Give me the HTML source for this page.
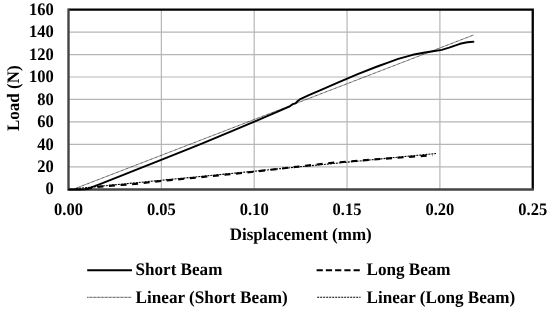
<!DOCTYPE html>
<html><head><meta charset="utf-8"><title>Load vs Displacement</title>
<style>
html,body{margin:0;padding:0;background:#fff;}
body{width:550px;height:311px;overflow:hidden;}
svg{display:block;}
text{font-family:"Liberation Serif","Times New Roman",serif;font-weight:bold;font-size:17px;fill:#000;text-rendering:geometricPrecision;}
text.t{font-size:16.5px;}
text.g{font-size:17.1px;}
</style></head><body>
<svg width="550" height="311" viewBox="0 0 550 311">
<rect x="0" y="0" width="550" height="311" fill="#fff"/>
<g stroke="#b6b6b6" stroke-width="1.2" fill="none">
<line x1="68.5" y1="166.80" x2="532.8" y2="166.80"/>
<line x1="68.5" y1="144.35" x2="532.8" y2="144.35"/>
<line x1="68.5" y1="121.90" x2="532.8" y2="121.90"/>
<line x1="68.5" y1="99.45" x2="532.8" y2="99.45"/>
<line x1="68.5" y1="77.00" x2="532.8" y2="77.00"/>
<line x1="68.5" y1="54.55" x2="532.8" y2="54.55"/>
<line x1="68.5" y1="32.10" x2="532.8" y2="32.10"/>
<line x1="161.35" y1="9.7" x2="161.35" y2="189.2"/>
<line x1="254.20" y1="9.7" x2="254.20" y2="189.2"/>
<line x1="347.05" y1="9.7" x2="347.05" y2="189.2"/>
<line x1="439.90" y1="9.7" x2="439.90" y2="189.2"/>
</g>
<path d="M68.50 9.60 H532.75 V189.50" fill="none" stroke="#000" stroke-width="2.3" stroke-linejoin="miter"/>
<path d="M68.50 8.45 V189.50 H533.90" fill="none" stroke="#444" stroke-width="2.4" stroke-linejoin="miter"/>
<line x1="74.3" y1="188.85" x2="473.8" y2="34.9" stroke="#2a2a2a" stroke-width="0.95" stroke-dasharray="0.9 0.45"/>
<line x1="76" y1="188.6" x2="436" y2="153.5" stroke="#000" stroke-width="1.1" stroke-dasharray="2 1"/>
<polyline fill="none" stroke="#000" stroke-width="2.15" stroke-dasharray="6 5.6" points="86,189.0 93,187.8 100,186.6 118,185.2 130,184.4 141.5,183.3 152,182.0 161.8,180.9 200,177.3 254,171.7 300,166.4 330,163.0 380,159.0 432.6,155.2"/>
<polyline fill="none" stroke="#000" stroke-width="1.9" stroke-linejoin="round" stroke-linecap="round" points="69,189.5 80,189.5 85,189.2 88.5,188.4 92,187.1 100,184.1 124,174.7 134,170.7 161.8,159.6 185,150.4 200,144.3 230,131.8 254.4,121.6 280,110.6 289.2,106.7 292.5,104.2 295.4,103.4 297.8,101.0 299.8,99.4 308.9,95.2 320,90.3 339.5,81.9 347.2,78.6 357.7,74.2 375.9,67.0 380,65.5 387.3,62.8 398.2,58.8 412.7,54.8 423.6,52.7 434.5,51.0 441.8,49.9 449.1,47.7 460,43.8 467.3,42.3 473.4,41.8"/>
<text transform="translate(53.7 194.40) scale(1 1.065)" text-anchor="end" class="t">0</text>
<text transform="translate(53.7 171.95) scale(1 1.065)" text-anchor="end" class="t">20</text>
<text transform="translate(53.7 149.50) scale(1 1.065)" text-anchor="end" class="t">40</text>
<text transform="translate(53.7 127.05) scale(1 1.065)" text-anchor="end" class="t">60</text>
<text transform="translate(53.7 104.60) scale(1 1.065)" text-anchor="end" class="t">80</text>
<text transform="translate(53.7 82.15) scale(1 1.065)" text-anchor="end" class="t">100</text>
<text transform="translate(53.7 59.70) scale(1 1.065)" text-anchor="end" class="t">120</text>
<text transform="translate(53.7 37.25) scale(1 1.065)" text-anchor="end" class="t">140</text>
<text transform="translate(53.7 14.80) scale(1 1.065)" text-anchor="end" class="t">160</text>
<text transform="translate(68.50 214.6) scale(1 1.065)" text-anchor="middle" class="t">0.00</text>
<text transform="translate(161.35 214.6) scale(1 1.065)" text-anchor="middle" class="t">0.05</text>
<text transform="translate(254.20 214.6) scale(1 1.065)" text-anchor="middle" class="t">0.10</text>
<text transform="translate(347.05 214.6) scale(1 1.065)" text-anchor="middle" class="t">0.15</text>
<text transform="translate(439.90 214.6) scale(1 1.065)" text-anchor="middle" class="t">0.20</text>
<text transform="translate(532.75 214.6) scale(1 1.065)" text-anchor="middle" class="t">0.25</text>
<text transform="translate(300.7 239.6) scale(1 1.03)" text-anchor="middle">Displacement (mm)</text>
<text transform="translate(19.3 98.2) rotate(-90) scale(1 1.03)" text-anchor="middle">Load (N)</text>
<line x1="87.2" y1="270.2" x2="132" y2="270.2" stroke="#000" stroke-width="1.9"/>
<text class="g" transform="translate(135.5 275.4) scale(1 1.03)">Short Beam</text>
<line x1="316.6" y1="270.2" x2="360.1" y2="270.2" stroke="#000" stroke-width="1.9" stroke-dasharray="6.2 3.05"/>
<text class="g" transform="translate(366.5 275.4) scale(1 1.03)">Long Beam</text>
<line x1="87.2" y1="297.3" x2="131.4" y2="297.3" stroke="#2a2a2a" stroke-width="0.95" stroke-dasharray="0.9 0.45"/>
<text class="g" style="font-size:17.18px" transform="translate(135.5 302.55) scale(1 1.03)">Linear (Short Beam)</text>
<line x1="317.2" y1="297.3" x2="360.6" y2="297.3" stroke="#000" stroke-width="1.1" stroke-dasharray="2 1"/>
<text class="g" transform="translate(366.5 302.55) scale(1 1.03)">Linear (Long Beam)</text>
</svg>
</body></html>
